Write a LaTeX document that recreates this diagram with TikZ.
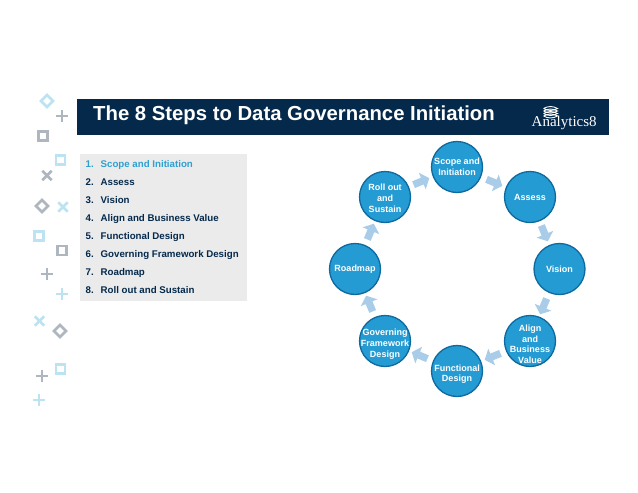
\documentclass[tikz,border=0pt]{standalone}
\usepackage{fontspec}
\setmainfont{Liberation Sans}
\newfontfamily\logofont{Liberation Serif}
\usetikzlibrary{shapes.arrows,shapes.geometric,shapes.misc}
\definecolor{navy}{HTML}{04294B}
\definecolor{stepblue}{HTML}{259BD3}
\definecolor{ringblue}{HTML}{0E6A9E}
\definecolor{arrowblue}{HTML}{A9CDE8}
\definecolor{panel}{HTML}{EBEBEB}
\definecolor{listblue}{HTML}{2F9FD0}
\definecolor{decogray}{HTML}{AEB6BF}
\definecolor{decoblue}{HTML}{BCE3F1}
\newcommand{\lowr}[1]{\rule{0pt}{#1}}
\tikzset{
 x=1pt,y=-1pt,
 stepnode/.style={circle,draw=ringblue,line width=1.3pt,fill=stepblue,minimum size=51pt,inner sep=-12pt,align=center,text=white,font=\bfseries\fontsize{9}{10.7}\selectfont},
 flow/.style={single arrow,fill=arrowblue,draw=none,minimum height=17pt,minimum width=18pt,single arrow head extend=2.5pt,single arrow tip angle=100,inner sep=1.5pt},
 listitem/.style={anchor=west,inner sep=0pt,text height=8.6pt,text depth=2.2pt,font=\bfseries\fontsize{9.7}{12}\selectfont,text=navy},
 sq/.style={draw,line width=2.4pt,minimum size=9pt,inner sep=0pt},
 dia/.style={diamond,draw,line width=2.6pt,minimum size=13pt,inner sep=0pt},
 pl/.style={cross out,draw,line width=2.6pt,minimum size=6.5pt,inner sep=0pt,rotate=45},
 xx/.style={cross out,draw,line width=2.8pt,minimum size=6.5pt,inner sep=0pt},
}
\begin{document}
\begin{tikzpicture}
\useasboundingbox (0,0) rectangle (638,493);
\fill[white] (0,0) rectangle (638,493);
% banner
\node[fill=navy,minimum width=532pt,minimum height=36.5pt,inner sep=0pt,anchor=north west] (banner) at (77,98.5) {};
\node[anchor=west,inner sep=0pt,text=white,font=\bfseries\fontsize{20.3}{24}\selectfont] (title) at (93,115) {The 8 Steps to Data Governance Initiation};
\node[anchor=west,inner sep=0pt,text=white,font=\logofont\fontsize{15}{16}\selectfont] (logo) at (531.5,123) {Analytics8};
\foreach \yy in {108.5,111,113.5,116}
  \draw[white,line width=.9pt] (543.5,\yy) .. controls (548,\yy-2.6) and (553,\yy-2.6) .. (557.5,\yy) .. controls (553,\yy+2.6) and (548,\yy+2.6) .. (543.5,\yy);
% list
\node[fill=panel,minimum width=167pt,minimum height=146.5pt,inner sep=0pt,anchor=north west] (panelbox) at (80,154) {};
\node[listitem,text=listblue] (n1) at (85.5,164) {1.};\node[listitem,text=listblue] (t1) at (100.5,164) {Scope and Initiation};
\node[listitem] (n2) at (85.5,182) {2.};\node[listitem] (t2) at (100.5,182) {Assess};
\node[listitem] (n3) at (85.5,200) {3.};\node[listitem] (t3) at (100.5,200) {Vision};
\node[listitem] (n4) at (85.5,218) {4.};\node[listitem] (t4) at (100.5,218) {Align and Business Value};
\node[listitem] (n5) at (85.5,236) {5.};\node[listitem] (t5) at (100.5,236) {Functional Design};
\node[listitem] (n6) at (85.5,254) {6.};\node[listitem] (t6) at (100.5,254) {Governing Framework Design};
\node[listitem] (n7) at (85.5,272) {7.};\node[listitem] (t7) at (100.5,272) {Roadmap};
\node[listitem] (n8) at (85.5,290) {8.};\node[listitem] (t8) at (100.5,290) {Roll out and Sustain};
% decorations
\node[dia,decoblue] (d1) at (47,101) {};
\node[pl,decogray] (d2) at (62,116) {};
\node[sq,decogray] (d3) at (43,136) {};
\node[sq,decoblue] (d4) at (60.5,160) {};
\node[xx,decogray] (d5) at (47,175.5) {};
\node[dia,decogray] (d6) at (42,206) {};
\node[xx,decoblue] (d7) at (63,207) {};
\node[sq,decoblue] (d8) at (39,236) {};
\node[sq,decogray] (d9) at (62,250.5) {};
\node[pl,decogray] (d10) at (47,274) {};
\node[pl,decoblue] (d11) at (62,294) {};
\node[xx,decoblue] (d12) at (39.5,321) {};
\node[dia,decogray] (d13) at (60,331) {};
\node[sq,decoblue] (d14) at (60.5,369) {};
\node[pl,decogray] (d15) at (42,376) {};
\node[pl,decoblue] (d16) at (39,400) {};
% cycle
\node[stepnode] (s1) at (457,167) {Scope and\\Initiation};
\node[stepnode] (s2) at (530,197) {Assess};
\node[stepnode] (s3) at (559.5,269) {Vision};
\node[stepnode] (s4) at (530,341) {\lowr{13pt}Align\\and\\Business\\Value};
\node[stepnode] (s5) at (457,371) {\lowr{13pt}Functional\\Design};
\node[stepnode] (s6) at (385,341) {\lowr{13pt}Governing\\Framework\\Design};
\node[stepnode] (s7) at (355,269) {Roadmap};
\node[stepnode] (s8) at (385,197) {\lowr{9pt}Roll out\\and\\Sustain};
\node[flow,rotate=-22.5] (a1) at (493,182) {};
\node[flow,rotate=-67.5] (a2) at (544,232) {};
\node[flow,rotate=-112.5] (a3) at (544,305) {};
\node[flow,rotate=-157.5] (a4) at (494,356) {};
\node[flow,rotate=157.5] (a5) at (421,356) {};
\node[flow,rotate=112.5] (a6) at (370,305) {};
\node[flow,rotate=67.5] (a7) at (370,233) {};
\node[flow,rotate=22.5] (a8) at (420,182) {};
\end{tikzpicture}
\end{document}
